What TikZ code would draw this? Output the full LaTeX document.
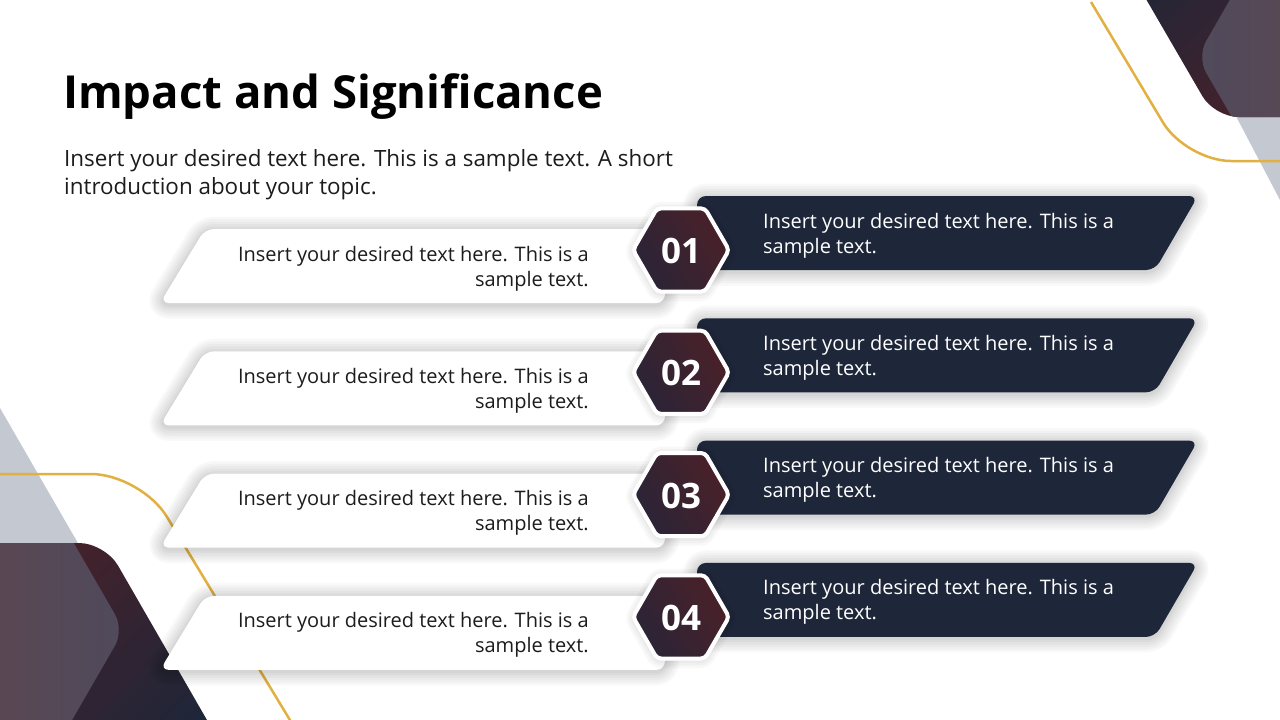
\documentclass[tikz,border=0pt]{standalone}
\usepackage{fontspec}
\setmainfont{Open Sans}
\definecolor{navy}{HTML}{1E2639}
\definecolor{maroon}{HTML}{4A2129}
\definecolor{hexnavy}{HTML}{2A2437}
\definecolor{goldc}{HTML}{E2B040}
\definecolor{greyc}{HTML}{C4C8D0}
\definecolor{ovlA}{HTML}{5D4650}
\definecolor{ovlB}{HTML}{4F4A5C}
\definecolor{inkc}{HTML}{1C1C1C}
\newcommand{\LBoxPath}{(205,229+\o) -- (665,229+\o) -- (665,303+\o) -- (160,303+\o) -- cycle}
\newcommand{\RBoxPath}{(697,196+\o) -- (1198,196+\o) -- (1155,270+\o) -- (697,270+\o) -- cycle}
\newcommand{\HexPath}{(633,250+\o) -- (657,208.4+\o) -- (705,208.4+\o) -- (729,250+\o) -- (705,291.6+\o) -- (657,291.6+\o) -- cycle}
\tikzset{
  shadowlayer/.style={draw=black, draw opacity=0.028, line width=#1, line join=round, yshift=-1.5pt},
  whitebox/.style={fill=white, rounded corners=9pt},
  darkbox/.style={fill=navy, rounded corners=9pt},
  hexbox/.style={left color=hexnavy, right color=maroon, shading angle=120, draw=white, line width=4pt, rounded corners=4pt},
  bodytext/.style={font=\fontsize{20}{25}\selectfont, inner sep=0pt},
  numtext/.style={font=\fontsize{35}{40}\selectfont\bfseries, text=white, inner sep=0pt},
  goldline/.style={draw=goldc, line width=2.5pt},
}
\begin{document}
\begin{tikzpicture}[x=1pt,y=-1pt]
\useasboundingbox (0,0) rectangle (1280,720);
\fill[white] (0,0) rectangle (1280,720);

% ---------- top-right decoration ----------
\fill[greyc] (1175,0) -- (1280,200) -- (1280,0) -- cycle;
\path[goldline, rounded corners=45pt] (1091,2) -- (1186,161) -- (1290,161);
\path[top color=navy, bottom color=maroon, shading angle=45, rounded corners=24pt]
  (1110,-63) -- (1214.5,117) -- (1330,117) -- (1330,-63) -- cycle;
\begin{scope}
  \clip[rounded corners=24pt] (1110,-63) -- (1214.5,117) -- (1330,117) -- (1330,-63) -- cycle;
  \path[left color=ovlB, right color=ovlA, rounded corners=18pt]
    (1247,-30) -- (1197,57) -- (1251,150) -- (1330,150) -- (1330,-30) -- cycle;
\end{scope}

% ---------- bottom-left decoration ----------
\fill[greyc] (0,408) -- (180,720) -- (0,720) -- cycle;
\path[goldline, rounded corners=50pt] (-5,474) -- (141,474) -- (296,730);
\path[top color=maroon, bottom color=navy, shading angle=45, rounded corners=26pt]
  (-40,543) -- (105,543) -- (230,760) -- (-40,760) -- cycle;
\begin{scope}
  \clip[rounded corners=26pt] (-40,543) -- (105,543) -- (230,760) -- (-40,760) -- cycle;
  \path[left color=ovlA, right color=ovlB, rounded corners=18pt]
    (-40,520) -- (60.5,520) -- (124,630) -- (49,760) -- (-40,760) -- cycle;
\end{scope}

% ---------- title ----------
\node[anchor=base west, inner sep=0pt, text=black, font=\fontsize{45.5}{52}\selectfont\bfseries] (title) at (63,108) {Impact and Significance};
\node[anchor=base west, inner sep=0pt, text=inkc, font=\fontsize{22.4}{28}\selectfont] (sub1) at (64,166) {Insert your desired text here. This is a sample text. A short};
\node[anchor=base west, inner sep=0pt, text=inkc, font=\fontsize{22.4}{28}\selectfont] (sub2) at (64,194) {introduction about your topic.};

% ---------- rows ----------
\foreach \i in {1,2,3,4}{
  \pgfmathsetmacro{\o}{122.3*(\i-1)}
  \foreach \w in {28,23,18,13,8,4}{\path[shadowlayer=\w pt, rounded corners=9pt] \LBoxPath;}
  \path[whitebox] \LBoxPath;
  \foreach \w in {28,23,18,13,8,4}{\path[shadowlayer=\w pt, rounded corners=9pt] \RBoxPath;}
  \path[darkbox] \RBoxPath;
  \foreach \w in {16,11,6}{\path[shadowlayer=\w pt, rounded corners=4pt] \HexPath;}
  \path[hexbox] \HexPath;
  \node[numtext] (num\i) at (681,251+\o) {0\i};
  \node[bodytext, anchor=base east, text=inkc] (la\i) at (589,261+\o) {Insert your desired text here. This is a};
  \node[bodytext, anchor=base east, text=inkc] (lb\i) at (589,286+\o) {sample text.};
  \node[bodytext, anchor=base west, text=white] (ra\i) at (763,228+\o) {Insert your desired text here. This is a};
  \node[bodytext, anchor=base west, text=white] (rb\i) at (763,253+\o) {sample text.};
}
\end{tikzpicture}
\end{document}
